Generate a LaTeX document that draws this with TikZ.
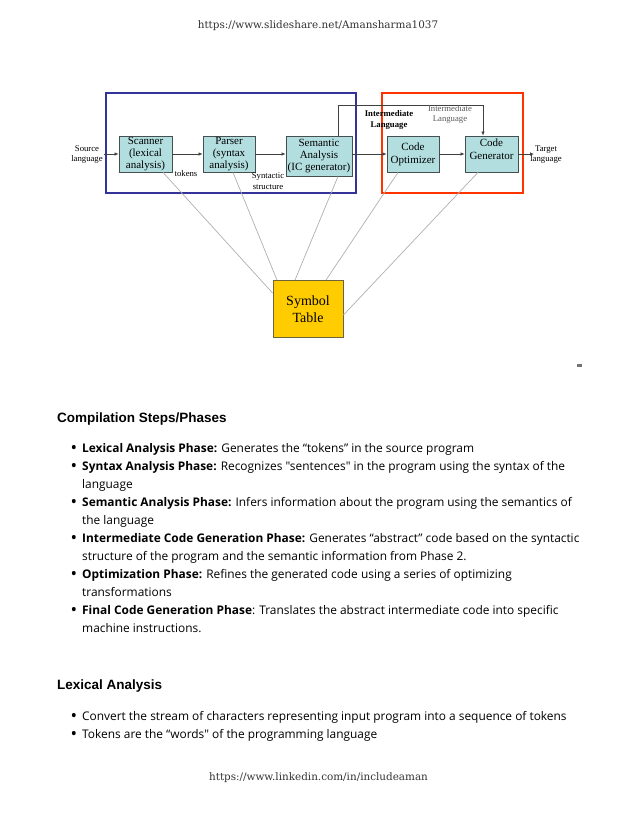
\documentclass[tikz,border=0pt]{standalone}
\usepackage{fontspec}
\setmainfont{Liberation Serif}
\newfontfamily\urlfont{DejaVu Serif}
\newfontfamily\headfont{Liberation Sans}
\newfontfamily\bodyfont{Open Sans}
\usetikzlibrary{arrows.meta}
\definecolor{boxfill}{RGB}{178,222,224}
\definecolor{boxline}{RGB}{70,80,80}
\definecolor{symfill}{RGB}{255,204,0}
\definecolor{symline}{RGB}{110,100,60}
\definecolor{navyframe}{RGB}{51,51,153}
\definecolor{redframe}{RGB}{255,51,0}
\definecolor{linkgray}{RGB}{176,176,176}
\definecolor{txtgray}{RGB}{90,90,90}
\tikzset{
  phase/.style={draw=boxline, fill=boxfill, line width=0.8pt, inner sep=0pt, align=center,
    font=\fontsize{11}{12}\selectfont},
  arr/.style={draw=black!75, line width=0.7pt, -{Latex[length=4pt,width=3.5pt]}},
  link/.style={draw=linkgray, line width=0.7pt},
  small/.style={font=\fontsize{8.7}{10.5}\selectfont, align=center, inner sep=0pt},
  urltext/.style={font=\urlfont\fontsize{10.4}{12}\selectfont, text=black!80, inner sep=0pt},
  heading/.style={font=\headfont\bfseries\fontsize{13.5}{16}\selectfont, anchor=base west, inner sep=0pt},
  body/.style={font=\bodyfont\fontsize{11.9}{14}\selectfont, anchor=base west, inner sep=0pt, text=black},
  bul/.style={font=\bodyfont\bfseries\fontsize{13.5}{14}\selectfont, anchor=base, inner sep=0pt}
}
\begin{document}
\begin{tikzpicture}[x=1pt,y=-1pt]
\useasboundingbox[fill=white] (0,0) rectangle (638,826);

% header / footer
\node[urltext, anchor=base] (hdr) at (318,28.5) {https://www.slideshare.net/Amansharma1037};
\node[urltext, anchor=base] (ftr) at (318.5,780.5) {https://www.linkedin.com/in/includeaman};

% frames
\draw[navyframe, line width=1.8pt] (106,93) rectangle (356,193);
\draw[redframe, line width=1.8pt] (382,93) rectangle (523,193);

% phase boxes
\node[phase, minimum width=53pt, minimum height=36pt] (scan) at (145.5,154) {Scanner\\(lexical\\analysis)};
\node[phase, minimum width=52pt, minimum height=36pt] (pars) at (229,154) {Parser\\(syntax\\analysis)};
\node[phase, minimum width=66pt, minimum height=40pt] (sem) at (319,156) {Semantic\\Analysis\\(IC generator)};
\node[phase, minimum width=52pt, minimum height=36pt, font=\fontsize{11}{13}\selectfont] (opt) at (413,154) {Code\\Optimizer};
\node[phase, minimum width=53pt, minimum height=36pt] (gen) at (491.5,154) {};
\node[align=center, inner sep=0pt, font=\fontsize{11}{13}\selectfont] (gentxt) at (491.5,149) {Code\\Generator};

% symbol table
\node[draw=symline, fill=symfill, line width=0.9pt, minimum width=70pt, minimum height=57pt,
  inner sep=0pt, align=center, font=\fontsize{14}{17}\selectfont] (sym) at (308,309) {Symbol\\Table};

% links to symbol table
\draw[link] ([xshift=17.5pt]scan.south) -- ([yshift=16pt]sym.west);
\draw[link] ([xshift=4pt]pars.south) -- ([xshift=-31pt]sym.north);
\draw[link] ([xshift=19pt]sem.south) -- ([xshift=-13pt]sym.north);
\draw[link] ([xshift=-15pt]opt.south) -- ([xshift=18pt]sym.north);
\draw[link] ([xshift=-13.5pt]gen.south) -- ([yshift=-6pt]sym.east);

% flow arrows
\coordinate (src) at (104,154);
\coordinate (tgt) at (534,154);
\draw[arr] (src) -- (scan.west);
\draw[arr] (scan.east) -- (pars.west);
\draw[arr] (pars.east) -- (sem.west |- pars.east);
\draw[arr] (sem.east |- opt.west) -- (opt.west);
\draw[arr] (opt.east) -- (gen.west);
\draw[arr] (gen.east) -- (tgt);
\coordinate (fbA) at (338,105);
\coordinate (fbB) at (483,105);
\draw[arr] (sem.north -| fbA) -- (fbA) -- (fbB) -- (gen.north -| fbB);

% labels
\node[small] (srcl) at (87,154.5) {Source\\language};
\node[small] (tgtl) at (546,154.5) {Target\\language};
\node[small] (tok) at (186,173.5) {tokens};
\node[small] (syn) at (268,181) {Syntactic\\structure};
\node[small, font=\bfseries\fontsize{8.7}{11}\selectfont] (il1) at (389,119.5) {Intermediate\\Language};
\node[small, text=txtgray] (il2) at (450,114.5) {Intermediate\\Language};

% tiny mark
\fill[black!55] (577,363.5) rectangle (582,366.5);

% text section
\node[heading] (h1) at (57,422) {Compilation Steps/Phases};
\foreach \y/\n in {452/b1,470/b2,506/b3,542/b4,578.5/b5,614.5/b6,720/b7,738/b8}
  \node[bul] (\n) at (74,\y) {•};
\node[body] (t1) at (82,452) {\textbf{Lexical Analysis Phase:} Generates the “tokens” in the source program};
\node[body] (t2) at (82,470) {\textbf{Syntax Analysis Phase:} Recognizes "sentences" in the program using the syntax of the};
\node[body] (t2b) at (82,488) {language};
\node[body] (t3) at (82,506) {\textbf{Semantic Analysis Phase:} Infers information about the program using the semantics of};
\node[body] (t3b) at (82,524) {the language};
\node[body] (t4) at (82,542) {\textbf{Intermediate Code Generation Phase:} Generates “abstract” code based on the syntactic};
\node[body] (t4b) at (82,560) {structure of the program and the semantic information from Phase 2.};
\node[body] (t5) at (82,578.5) {\textbf{Optimization Phase:} Refines the generated code using a series of optimizing};
\node[body] (t5b) at (82,596.5) {transformations};
\node[body] (t6) at (82,614.5) {\textbf{Final Code Generation Phase}: Translates the abstract intermediate code into specific};
\node[body] (t6b) at (82,632.5) {machine instructions.};

\node[heading] (h2) at (57,689) {Lexical Analysis};
\node[body] (t7) at (82,720) {Convert the stream of characters representing input program into a sequence of tokens};
\node[body] (t8) at (82,738) {Tokens are the “words" of the programming language};
\end{tikzpicture}
\end{document}
